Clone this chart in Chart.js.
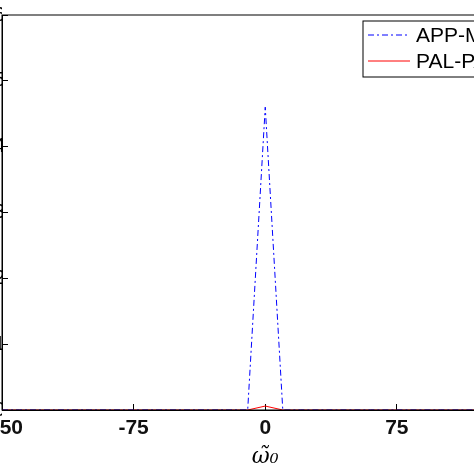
<!DOCTYPE html>
<html><head><meta charset="utf-8">
<script src="https://cdn.jsdelivr.net/npm/chart.js@4/dist/chart.umd.min.js"></script>
<style>html,body{margin:0;overflow:hidden;background:#fff;width:474px;height:474px}
#wrap{position:absolute;left:-60px;top:0;width:618px;height:474px}</style>
</head><body><div id="wrap"><canvas id="c"></canvas></div>
<script>
var xs = [];
for (var i = -150; i <= 150; i += 10) xs.push(i);
var appM = xs.map(function (x) { return x === 0 ? 4.6 : 0; });
var palP = xs.map(function (x) { return x === 0 ? 0.06 : 0; });
var xTicks = [-150, -75, 0, 75, 150];
var seriesNames = ["APP-MAP", "PAL-PAL"];

function pts(ys) { return xs.map(function (x, i) { return {x: x, y: ys[i]}; }); }

var frame = {
  id: "frame",
  afterDraw: function (chart) {
    var ctx = chart.ctx, a = chart.chartArea;
    ctx.save();
    ctx.strokeStyle = "#000"; ctx.lineWidth = 1;
    ctx.strokeRect(a.left, a.top, a.right - a.left, a.bottom - a.top);
    // legend
    var lx = 423, ly = 21;
    ctx.fillStyle = "#fff";
    ctx.fillRect(lx, ly, 170, 56);
    ctx.strokeRect(lx, ly, 170, 56);
    ctx.font = "21px 'Liberation Sans', Arial";
    ctx.textBaseline = "middle";
    ctx.lineWidth = 1;
    ctx.strokeStyle = "#0000ff"; ctx.setLineDash([6, 3, 2, 3]);
    ctx.beginPath(); ctx.moveTo(lx + 5, ly + 14); ctx.lineTo(lx + 47, ly + 14); ctx.stroke();
    ctx.strokeStyle = "#ff0000"; ctx.setLineDash([]);
    ctx.beginPath(); ctx.moveTo(lx + 5, ly + 40); ctx.lineTo(lx + 47, ly + 40); ctx.stroke();
    ctx.fillStyle = "#000";
    ctx.fillText(seriesNames[0], lx + 53, ly + 15);
    ctx.fillText(seriesNames[1], lx + 53, ly + 41);
    ctx.restore();
  }
};

new Chart("c", {
  type: "line",
  data: {
    datasets: [
      {label: seriesNames[0], data: pts(appM), borderColor: "#0000ff", borderWidth: 1,
       borderDash: [6, 3, 2, 3], pointRadius: 0, tension: 0},
      {label: seriesNames[1], data: pts(palP), borderColor: "#ff0000", borderWidth: 1,
       pointRadius: 0, tension: 0}
    ]
  },
  plugins: [frame],
  options: {
    animation: false, responsive: true, maintainAspectRatio: false,
    layout: {padding: {top: 1, right: 12, left: 0, bottom: 0}},
    plugins: {legend: {display: false}, tooltip: {enabled: false}},
    scales: {
      x: {
        type: "linear", min: -150, max: 150,
        afterBuildTicks: function (s) { s.ticks = xTicks.map(function (v) { return {value: v}; }); },
        afterFit: function (s) { s.height = 64; },
        grid: {display: true, drawOnChartArea: false, tickLength: -6, color: "#000"},
        border: {color: "#000"},
        ticks: {color: "#111", font: {family: "'Liberation Sans', Arial", size: 21, weight: "bold"}, padding: 12},
        title: {display: true, text: "ω̃₀", color: "#000",
                font: {family: "'DejaVu Serif', serif", size: 22, style: "italic"}, padding: {top: 0}}
      },
      y: {
        min: 0, max: 6,
        afterFit: function (s) { s.width = 62; },
        grid: {display: true, drawOnChartArea: false, tickLength: -6, color: "#000"},
        border: {color: "#000"},
        ticks: {stepSize: 1, color: "#000", font: {family: "'Liberation Sans', Arial", size: 20}}
      }
    }
  }
});
</script></body></html>
